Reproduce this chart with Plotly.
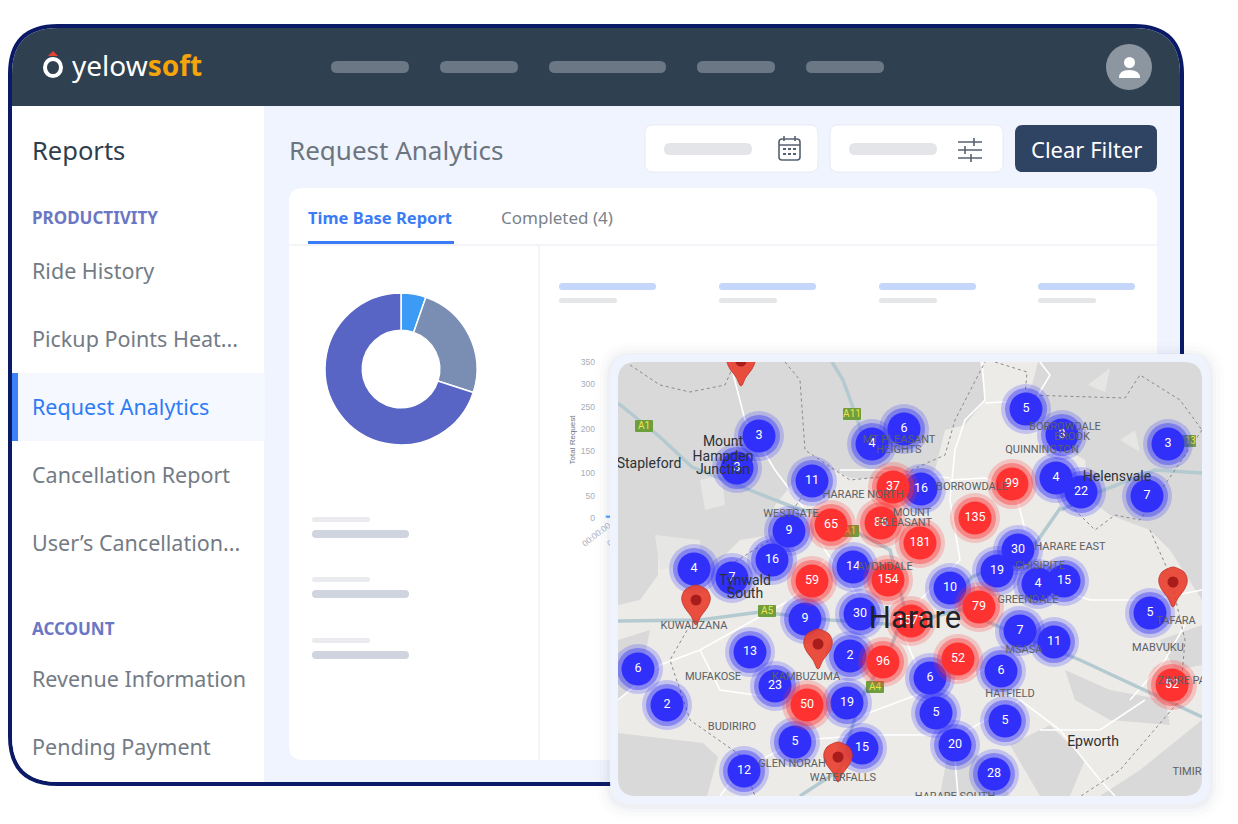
import plotly.graph_objects as go

W, H = 1238, 824
UI_FONT = "Noto Sans"
MAP_FONT = "Roboto"

# donut
DONUT_VALUES = [5.3, 24.7, 70]
DONUT_COLORS = ["#3b9bf5", "#7a8db3", "#5865c4"]

# small bar chart behind the map card
HOURS = ["00:00:00", "01:00:00"]
REQUESTS = [6, 3]
REQ_TICKS = [0, 50, 100, 150, 200, 250, 300, 350]

# sidebar
SIDE_TEXT = ["Ride History", "Pickup Points Heat...", "Request Analytics", "Cancellation Report",
             "User\u2019s Cancellation...", "Revenue Information", "Pending Payment"]
SIDE_Y = [271, 339, 407, 475, 543, 679, 747]
SIDE_HEADS = ["PRODUCTIVITY", "ACCOUNT"]
SIDE_HEAD_Y = [217, 628]

# map clusters
BLUE_N = [5, 6, 3, 3, 4, 3, 3, 11, 16, 4, 22, 7, 9, 16, 4, 7, 14, 30, 19, 4, 15, 10, 30, 9, 5, 7, 11,
          13, 2, 6, 2, 23, 19, 6, 6, 5, 5, 5, 15, 20, 12, 28]
BLUE_X = [1026, 904, 1062, 759, 872, 1168, 737, 812, 921, 1056, 1081, 1147, 789, 772, 694, 732, 853,
          1018, 997, 1038, 1064, 950, 860, 805, 1150, 1020, 1054, 750, 850, 638, 667, 775, 847, 930,
          1001, 936, 1005, 795, 862, 955, 744, 994]
BLUE_Y = [409, 429, 435, 436, 444, 444, 468, 481, 489, 478, 492, 496, 531, 560, 569, 578, 567, 550,
          571, 584, 581, 588, 614, 619, 613, 631, 642, 652, 656, 669, 705, 686, 703, 678, 671, 713,
          721, 742, 748, 745, 771, 774]
RED_N = [37, 99, 135, 65, 86, 181, 59, 154, 79, 1571, 96, 52, 52, 50]
RED_X = [893, 1012, 975, 831, 881, 920, 812, 888, 979, 911, 883, 958, 1172, 807]
RED_Y = [487, 484, 518, 525, 523, 543, 581, 580, 607, 621, 662, 659, 685, 705]

# marker pins, x of the point and y of the tip
PIN_X = [741, 696, 818, 838, 1173]
PIN_Y = [386, 625, 669, 782, 607]

# place names: text, x, y
PLACES_BIG = [("Mount", 723, 442), ("Hampden", 723, 457), ("Junction", 723, 470), ("Stapleford", 649, 464),
              ("Helensvale", 1117, 477), ("Tynwald", 745, 581), ("South", 745, 594), ("Epworth", 1093, 742)]
PLACES_SMALL = [("MT PLEASANT", 899, 440), ("HEIGHTS", 899, 450), ("BORROWDALE", 1065, 427), ("BROOK", 1072, 437),
                ("QUINNINGTON", 1042, 450), ("HARARE NORTH", 863, 495), ("BORROWDALE", 972, 487),
                ("WESTGATE", 791, 514), ("MOUNT", 912, 513), ("PLEASANT", 905, 523), ("HARARE EAST", 1070, 547),
                ("AVONDALE", 885, 567), ("CHISIPITE", 1040, 566), ("KUWADZANA", 694, 626), ("GREENDALE", 1028, 600),
                ("MSASA", 1024, 650), ("TAFARA", 1176, 621), ("MABVUKU", 1158, 648), ("MUFAKOSE", 713, 677),
                ("KAMBUZUMA", 806, 677), ("ZIMRE PAR", 1185, 681), ("HATFIELD", 1010, 694), ("BUDIRIRO", 732, 727),
                ("GLEN NORAH", 792, 764), ("WATERFALLS", 843, 778), ("TIMIR", 1187, 772), ("HARARE SOUTH", 955, 797)]
SHIELDS = [("A1", 644, 426), ("A11", 852, 414), ("A1", 850, 531), ("A5", 767, 611), ("A4", 875, 687), ("A13", 1187, 441)]

# map background
GRAY_AREAS = [
    [(618, 362), (980, 362), (985, 400), (965, 425), (945, 430), (935, 470), (900, 480), (850, 478), (835, 470),
     (800, 475), (775, 505), (770, 535), (740, 540), (720, 560), (705, 580), (680, 555), (658, 545), (658, 575),
     (640, 600), (618, 605)],
    [(1038, 362), (1202, 362), (1202, 600), (1170, 550), (1150, 530), (1110, 515), (1090, 500), (1085, 460), (1050, 440),
     (1020, 400), (1032, 385)],
    [(618, 733), (703, 743), (718, 757), (707, 796), (618, 796)],
    [(618, 640), (650, 630), (640, 680), (618, 700)],
    [(940, 796), (950, 740), (985, 760), (1010, 796)],
    [(1010, 745), (1050, 725), (1085, 760), (1070, 796), (1040, 796)],
    [(1100, 796), (1140, 770), (1202, 720), (1202, 796)],
    [(1065, 670), (1110, 690), (1165, 700), (1170, 725), (1110, 720), (1075, 700)],
    [(1160, 640), (1202, 625), (1202, 665), (1175, 670)],
]
LIGHT_AREAS = [
    [(1088, 385), (1110, 368), (1105, 392)], [(1120, 440), (1135, 430), (1140, 452)],
    [(655, 535), (700, 540), (700, 560), (660, 570)], [(700, 480), (722, 475), (725, 505), (705, 510)],
]
ROADS = [
    [(730, 362), (745, 420), (775, 470), (805, 510), (825, 550), (860, 600), (900, 625), (930, 700), (955, 760), (958, 796)],
    [(982, 362), (985, 400), (965, 420), (955, 450), (950, 500), (960, 560), (920, 600)],
    [(985, 403), (1035, 400), (1050, 375), (1040, 362)],
    [(950, 480), (985, 478), (1015, 490), (1025, 530), (1045, 545)],
    [(618, 700), (660, 665), (700, 650), (790, 600), (825, 560)],
    [(700, 650), (720, 690), (790, 700), (850, 720), (930, 690), (1010, 660)],
    [(1020, 700), (1060, 730), (1100, 780), (1115, 796)],
    [(1060, 590), (1090, 600), (1150, 600), (1202, 590)],
    [(1130, 700), (1165, 660), (1185, 625)],
    [(720, 796), (740, 770), (800, 740), (870, 735), (960, 735), (1020, 700)],
    [(1040, 730), (1100, 730), (1145, 700)],
    [(840, 470), (880, 470), (950, 478)],
]
HIGHWAYS = [
    [(618, 403), (660, 437), (692, 467), (742, 487), (793, 507), (828, 517), (890, 550), (905, 610), (890, 650), (860, 700), (840, 770), (800, 796)],
    [(618, 621), (700, 620), (760, 612), (830, 620), (900, 625), (960, 610), (1030, 640), (1080, 660), (1202, 717)],
    [(832, 362), (843, 380), (855, 413), (863, 437)],
    [(1061, 507), (1038, 540), (1018, 557), (972, 577), (950, 600)],
    [(1061, 510), (1096, 493), (1155, 470), (1202, 473)],
]
BORDERS = [
    [(630, 365), (660, 385), (690, 392), (725, 385), (735, 362)],
    [(785, 362), (800, 380), (805, 450), (850, 480), (900, 475), (945, 455), (955, 420), (985, 362)],
    [(995, 362), (1027, 372), (1025, 395), (1125, 398), (1140, 375), (1180, 400), (1202, 430)],
    [(1202, 430), (1175, 470), (1140, 520), (1115, 515), (1095, 530), (1070, 505)],
    [(1150, 530), (1170, 575), (1185, 640), (1180, 700), (1120, 770), (1075, 800)],
    [(690, 625), (670, 660), (690, 720), (740, 755), (755, 796)],
    [(730, 565), (770, 540), (800, 500), (815, 470)],
]


def rounded(x0, y0, x1, y1, r):
    return (f"M{x0 + r},{y0} L{x1 - r},{y0} Q{x1},{y0} {x1},{y0 + r} L{x1},{y1 - r} Q{x1},{y1} {x1 - r},{y1} "
            f"L{x0 + r},{y1} Q{x0},{y1} {x0},{y1 - r} L{x0},{y0 + r} Q{x0},{y0} {x0 + r},{y0} Z")


def corners(x0, y0, x1, y1, rtl, rtr, rbr, rbl):
    return (f"M{x0 + rtl},{y0} L{x1 - rtr},{y0} Q{x1},{y0} {x1},{y0 + rtr} L{x1},{y1 - rbr} Q{x1},{y1} {x1 - rbr},{y1} "
            f"L{x0 + rbl},{y1} Q{x0},{y1} {x0},{y1 - rbl} L{x0},{y0 + rtl} Q{x0},{y0} {x0 + rtl},{y0} Z")


shapes = []


def add_path(path, fill="rgba(0,0,0,0)", line=None, lw=0, layer="below", xref="x", yref="y", dash=None):
    shapes.append(dict(type="path", path=path, fillcolor=fill, layer=layer, xref=xref, yref=yref,
                       line=dict(color=line or "rgba(0,0,0,0)", width=lw, dash=dash or "solid")))


def pill(x0, y0, x1, y1, color):
    add_path(rounded(x0, y0, x1, y1, (y1 - y0) / 2), color)


# window
add_path(rounded(10, 26, 1182, 784, 48), "#f0f4fe", "#0b1a66", 4)
add_path(corners(12, 28, 1180, 106, 46, 46, 0, 0), "#2f4050")
add_path(corners(12, 106, 264, 782, 0, 0, 0, 46), "#ffffff")
add_path(rounded(12, 373, 265, 441, 0), "#f5f8ff")
add_path(rounded(12, 373, 18, 441, 0), "#3b82f6")

# top bar
for x0, x1 in [(331, 409), (440, 518), (549, 666), (697, 775), (806, 884)]:
    pill(x0, 61, x1, 73, "#6b7785")
shapes.append(dict(type="circle", x0=1106, x1=1152, y0=44, y1=90, fillcolor="#8c96a1", line_width=0, layer="below", xref="x", yref="y"))
shapes.append(dict(type="circle", x0=1124, x1=1135, y0=57, y1=68, fillcolor="#ffffff", line_width=0, layer="below", xref="x", yref="y"))
add_path("M1119,78 Q1119,70 1129,70 Q1140,70 1140,78 Z", "#ffffff")

# logo
shapes.append(dict(type="circle", x0=45, x1=61, y0=59, y1=76, fillcolor="rgba(0,0,0,0)", line=dict(color="#ffffff", width=4), layer="below", xref="x", yref="y"))
add_path("M48,56 L53,51 L58,56 Z", "#e8412f")

# filters
add_path(rounded(645, 125, 818, 172, 8), "#ffffff", "#e6eaf2", 1)
add_path(rounded(830, 125, 1003, 172, 8), "#ffffff", "#e6eaf2", 1)
pill(664, 143, 752, 155, "#e3e5e8")
pill(849, 143, 937, 155, "#e3e5e8")
add_path(rounded(779, 139, 800, 160, 3), line="#556170", lw=1.6)
add_path("M779,145 L800,145 M784,136 L784,141 M795,136 L795,141", line="#556170", lw=1.6)
add_path("M783,149 L786,149 M788,149 L791,149 M793,149 L796,149 M783,154 L786,154 M788,154 L791,154 M793,154 L796,154",
         line="#556170", lw=2)
add_path("M958,142 L982,142 M958,150 L982,150 M958,158 L982,158", line="#556170", lw=1.6)
add_path("M974,138 L974,146 M965,146 L965,154 M971,154 L971,162", line="#556170", lw=1.6)
add_path(rounded(1015, 125, 1157, 172, 8), "#2f4463")

# report card
add_path(rounded(289, 188, 1157, 760, 14), "#ffffff")
add_path("M289,245 L1157,245", line="#eef0f5", lw=1.5)
add_path("M539,246 L539,760", line="#eef0f5", lw=1.5)
add_path(rounded(308, 241, 454, 244, 0), "#3b7cf6")
for y0 in [517, 577, 638]:
    pill(312, y0, 370, y0 + 5, "#e9ebee")
    pill(312, y0 + 13, 409, y0 + 21, "#cfd4de")
for x0 in [559, 719, 879, 1038]:
    pill(x0, 283, x0 + 97, 290, "#c5d6fb")
    pill(x0, 298, x0 + 58, 303, "#e5e6e8")

# map card shadow
for grow, alpha in [(14, 0.012), (10, 0.016), (6, 0.022), (3, 0.03)]:
    add_path(rounded(610 - grow, 354 - grow + 2, 1210 + grow, 804 + grow + 2, 22 + grow), f"rgba(60,70,110,{alpha})")

# map
MAP_REF = dict(xref="x3", yref="y3")
add_path(rounded(618, 362, 1202, 796, 0), "#ecebe8", **MAP_REF)
for area in GRAY_AREAS:
    add_path("M" + " L".join(f"{x},{y}" for x, y in area) + " Z", "#d9d9d9", **MAP_REF)
for area in LIGHT_AREAS:
    add_path("M" + " L".join(f"{x},{y}" for x, y in area) + " Z", "#e6e6e4", **MAP_REF)
for road in ROADS:
    add_path("M" + " L".join(f"{x},{y}" for x, y in road), line="#ffffff", lw=1.6, **MAP_REF)
for road in HIGHWAYS:
    add_path("M" + " L".join(f"{x},{y}" for x, y in road), line="#b4cad0", lw=3.5, **MAP_REF)
for road in BORDERS:
    add_path("M" + " L".join(f"{x},{y}" for x, y in road), line="#8a8a8a", lw=1, dash="dot", **MAP_REF)
for _, x, y in SHIELDS:
    add_path(rounded(x - 9, y - 6, x + 9, y + 6, 1), "#6e9f3c", **MAP_REF)

# map card frame with a hole for the map
add_path(rounded(610, 354, 1210, 804, 22) + " " + rounded(618, 362, 1202, 796, 18), "#eff3fd", layer="above")

fig = go.Figure()

fig.add_trace(go.Pie(values=DONUT_VALUES, hole=0.51, sort=False, direction="clockwise", rotation=0,
                     marker=dict(colors=DONUT_COLORS, line=dict(color="#ffffff", width=1.5)),
                     textinfo="none", hoverinfo="skip", showlegend=False,
                     domain=dict(x=[325 / W, 477 / W], y=[1 - 445 / H, 1 - 293 / H])))

fig.add_trace(go.Bar(x=HOURS, y=REQUESTS, xaxis="x2", yaxis="y2", marker_color="#3b9bf5", width=0.22, showlegend=False))

# chrome axes need something to draw on
fig.add_trace(go.Scatter(x=[0], y=[0], xaxis="x", yaxis="y", mode="none", showlegend=False, hoverinfo="skip"))

map_axes = dict(xaxis="x3", yaxis="y3", showlegend=False, hoverinfo="skip", cliponaxis=True)
fig.add_trace(go.Scatter(x=[s[1] for s in SHIELDS], y=[s[2] for s in SHIELDS], text=[s[0] for s in SHIELDS], mode="text",
                         textfont=dict(family=MAP_FONT, size=10, color="#f4e04d"), **map_axes))

for size, alpha in [(50, 0.22), (42, 0.4), (33, 1.0)]:
    fig.add_trace(go.Scatter(x=BLUE_X, y=BLUE_Y, mode="markers",
                             marker=dict(size=size, color=f"rgba(48,48,250,{alpha})", line_width=0), **map_axes))
for size, alpha in [(50, 0.22), (42, 0.4), (33, 1.0)]:
    fig.add_trace(go.Scatter(x=RED_X, y=RED_Y, mode="markers",
                             marker=dict(size=size, color=f"rgba(255,50,50,{alpha})", line_width=0), **map_axes))

# pins: teardrop outline around each tip
PIN_DX = [0, -5, -11, -14, -14, -11, -6, 0, 6, 11, 14, 14, 11, 5, 0]
PIN_DY = [0, -9, -17, -24, -29, -35, -38, -40, -38, -35, -29, -24, -17, -9, 0]
pin_x, pin_y = [], []
for px, py in zip(PIN_X, PIN_Y):
    pin_x += [px + d for d in PIN_DX] + [None]
    pin_y += [py + d for d in PIN_DY] + [None]
fig.add_trace(go.Scatter(x=pin_x, y=pin_y, mode="lines", fill="toself", fillcolor="rgba(232,64,48,0.92)",
                         line=dict(color="rgba(190,50,40,0.8)", width=1, shape="spline"), **map_axes))
fig.add_trace(go.Scatter(x=PIN_X, y=[y - 25 for y in PIN_Y], mode="markers",
                         marker=dict(size=11, color="#a81c1c", line_width=0), **map_axes))

fig.add_trace(go.Scatter(x=BLUE_X + RED_X, y=BLUE_Y + RED_Y, text=[str(n) for n in BLUE_N + RED_N], mode="text",
                         textfont=dict(family=MAP_FONT, size=12.5, color="#ffffff"), **map_axes))
fig.add_trace(go.Scatter(x=[p[1] for p in PLACES_SMALL], y=[p[2] for p in PLACES_SMALL], text=[p[0] for p in PLACES_SMALL],
                         mode="text", textfont=dict(family=MAP_FONT, size=11, color="#5c6064"), **map_axes))
fig.add_trace(go.Scatter(x=[p[1] for p in PLACES_BIG], y=[p[2] for p in PLACES_BIG], text=[p[0] for p in PLACES_BIG],
                         mode="text", textfont=dict(family=MAP_FONT, size=14, color="#2c3136"), **map_axes))
fig.add_trace(go.Scatter(x=[915], y=[620], text=["Harare"], mode="text",
                         textfont=dict(family=MAP_FONT, size=31, color="#1f2226"), **map_axes))


def label(text, x, y, size, color, anchor="left"):
    return dict(text=text, x=x, y=y, xref="x", yref="y", xanchor=anchor, yanchor="middle", showarrow=False,
                font=dict(family=UI_FONT, size=size, color=color))


annotations = [
    label('yelow<span style="color:#f5a50a"><b>soft</b></span>', 70, 65, 28, "#ffffff"),
    label("Reports", 30, 150, 25.5, "#2f3e4e"),
    label("Request Analytics", 287, 150, 26, "#6b7580"),
    label("Clear Filter", 1086, 149, 22, "#ffffff", "center"),
    label("<b>Time Base Report</b>", 306, 217, 16.5, "#3b7cf6"),
    label("Completed (4)", 499, 217, 17, "#7a828c"),
]
annotations += [label(t, 30, y - 1, 21.5, "#2f7bf6" if t == "Request Analytics" else "#737b85") for t, y in zip(SIDE_TEXT, SIDE_Y)]
annotations += [label(f"<b>{t}</b>", 30, y, 17, "#6b76c4") for t, y in zip(SIDE_HEADS, SIDE_HEAD_Y)]

hidden = dict(visible=False, fixedrange=True, automargin=False)
fig.update_layout(
    width=W, height=H, margin=dict(l=0, r=0, t=0, b=0), paper_bgcolor="#ffffff", plot_bgcolor="rgba(0,0,0,0)",
    showlegend=False, shapes=shapes, annotations=annotations,
    xaxis=dict(range=[0, W], domain=[0, 1], **hidden),
    yaxis=dict(range=[H, 0], domain=[0, 1], **hidden),
    xaxis2=dict(domain=[596 / W, 646 / W], anchor="y2", type="category", tickangle=-38, ticks="", showgrid=False, showline=False,
                automargin=False, tickfont=dict(size=8.5, color="#a5adbb", family="Liberation Sans"), zeroline=False),
    yaxis2=dict(domain=[1 - 518 / H, 1 - 362 / H], anchor="x2", range=[0, 350], tickvals=REQ_TICKS, showgrid=False, showline=False,
                automargin=False, zeroline=False, ticks="", tickfont=dict(size=8.5, color="#a5adbb", family="Liberation Sans"),
                title=dict(text="Total Request", font=dict(size=8, color="#6f7785", family="Liberation Sans"), standoff=4)),
    xaxis3=dict(range=[618, 1202], domain=[618 / W, 1202 / W], anchor="y3", **hidden),
    yaxis3=dict(range=[796, 362], domain=[1 - 796 / H, 1 - 362 / H], anchor="x3", **hidden),
)

fig.write_html("out.html", config={"displayModeBar": False}, post_script="document.body.style.margin='0';")
